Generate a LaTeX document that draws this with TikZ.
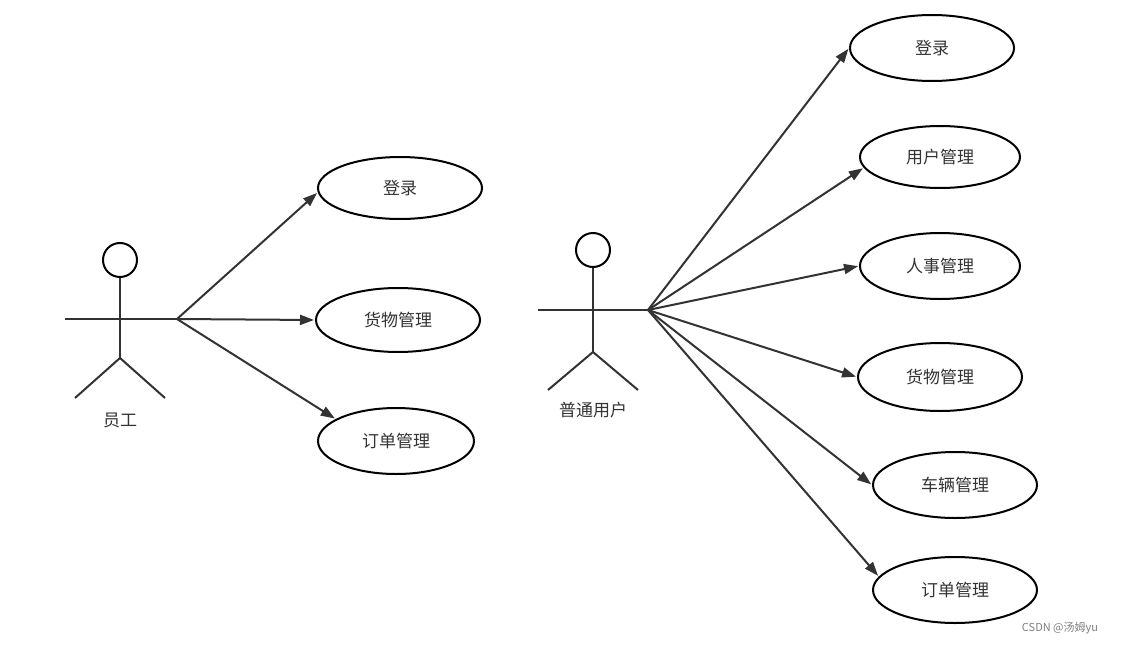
\documentclass[tikz,border=0pt]{standalone}
\usepackage{fontspec}
\setmainfont{Noto Sans CJK SC}
\usetikzlibrary{shapes.geometric,arrows.meta}
\definecolor{ln}{HTML}{333333}
\tikzset{
  uc/.style={ellipse,draw=black,line width=2pt,font=\fontsize{17}{17}\selectfont,text=ln},
  arr/.style={-{Triangle[length=14pt,width=10pt]},line width=2pt,draw=ln,shorten >=1pt},
  act/.style={line width=2pt,draw=ln}
}
\begin{document}
\begin{tikzpicture}[x=1pt,y=-1pt]
\useasboundingbox[fill=white] (0,0) rectangle (1122,645);
% left actor
\node[circle,draw=black,line width=2pt,minimum size=34pt,inner sep=0] (h1) at (120,260) {};
\coordinate (a1l) at (65,319); \coordinate (a1r) at (177,319);
\coordinate (b1) at (120,358);
\draw[act] (h1.south) -- (b1);
\draw[act] (a1l) -- (a1r);
\draw[act] (75,398) -- (b1) -- (165,398);
\node[font=\fontsize{17}{17}\selectfont,text=ln] (l1) at (120,420) {员工};
\node[uc,minimum width=164pt,minimum height=62pt] (e1) at (400,188) {登录};
\node[uc,minimum width=164pt,minimum height=64pt] (e2) at (398,320) {货物管理};
\node[uc,minimum width=156pt,minimum height=66pt] (e3) at (396,441) {订单管理};
\draw[arr] (a1r) -- (e1.183);
\draw[arr] (a1r) -- (e2.west);
\draw[arr] (a1r) -- (e3.160);
% right actor
\node[circle,draw=black,line width=2pt,minimum size=34pt,inner sep=0] (h2) at (593,250) {};
\coordinate (a2l) at (538,310); \coordinate (a2r) at (648,310);
\coordinate (b2) at (593,352);
\draw[act] (h2.south) -- (b2);
\draw[act] (a2l) -- (a2r);
\draw[act] (548,390) -- (b2) -- (638,390);
\node[font=\fontsize{17}{17}\selectfont,text=ln] (l2) at (593,410) {普通用户};
\node[uc,minimum width=164pt,minimum height=66pt] (f1) at (932,48) {登录};
\node[uc,minimum width=160pt,minimum height=62pt] (f2) at (940,157) {用户管理};
\node[uc,minimum width=160pt,minimum height=66pt] (f3) at (940,266) {人事管理};
\node[uc,minimum width=164pt,minimum height=68pt] (f4) at (940,377) {货物管理};
\node[uc,minimum width=164pt,minimum height=66pt] (f5) at (955,485) {车辆管理};
\node[uc,minimum width=164pt,minimum height=66pt] (f6) at (955,590) {订单管理};
\draw[arr] (a2r) -- (f1.west);
\draw[arr] (a2r) -- (f2.188);
\draw[arr] (a2r) -- (f3.west);
\draw[arr] (a2r) -- (f4.west);
\draw[arr] (a2r) -- (f5.west);
\draw[arr] (a2r) -- (f6.170);
\node[font=\fontsize{11}{11}\selectfont,text=gray] (wm) at (1060,628) {CSDN @汤姆yu};
\end{tikzpicture}
\end{document}
